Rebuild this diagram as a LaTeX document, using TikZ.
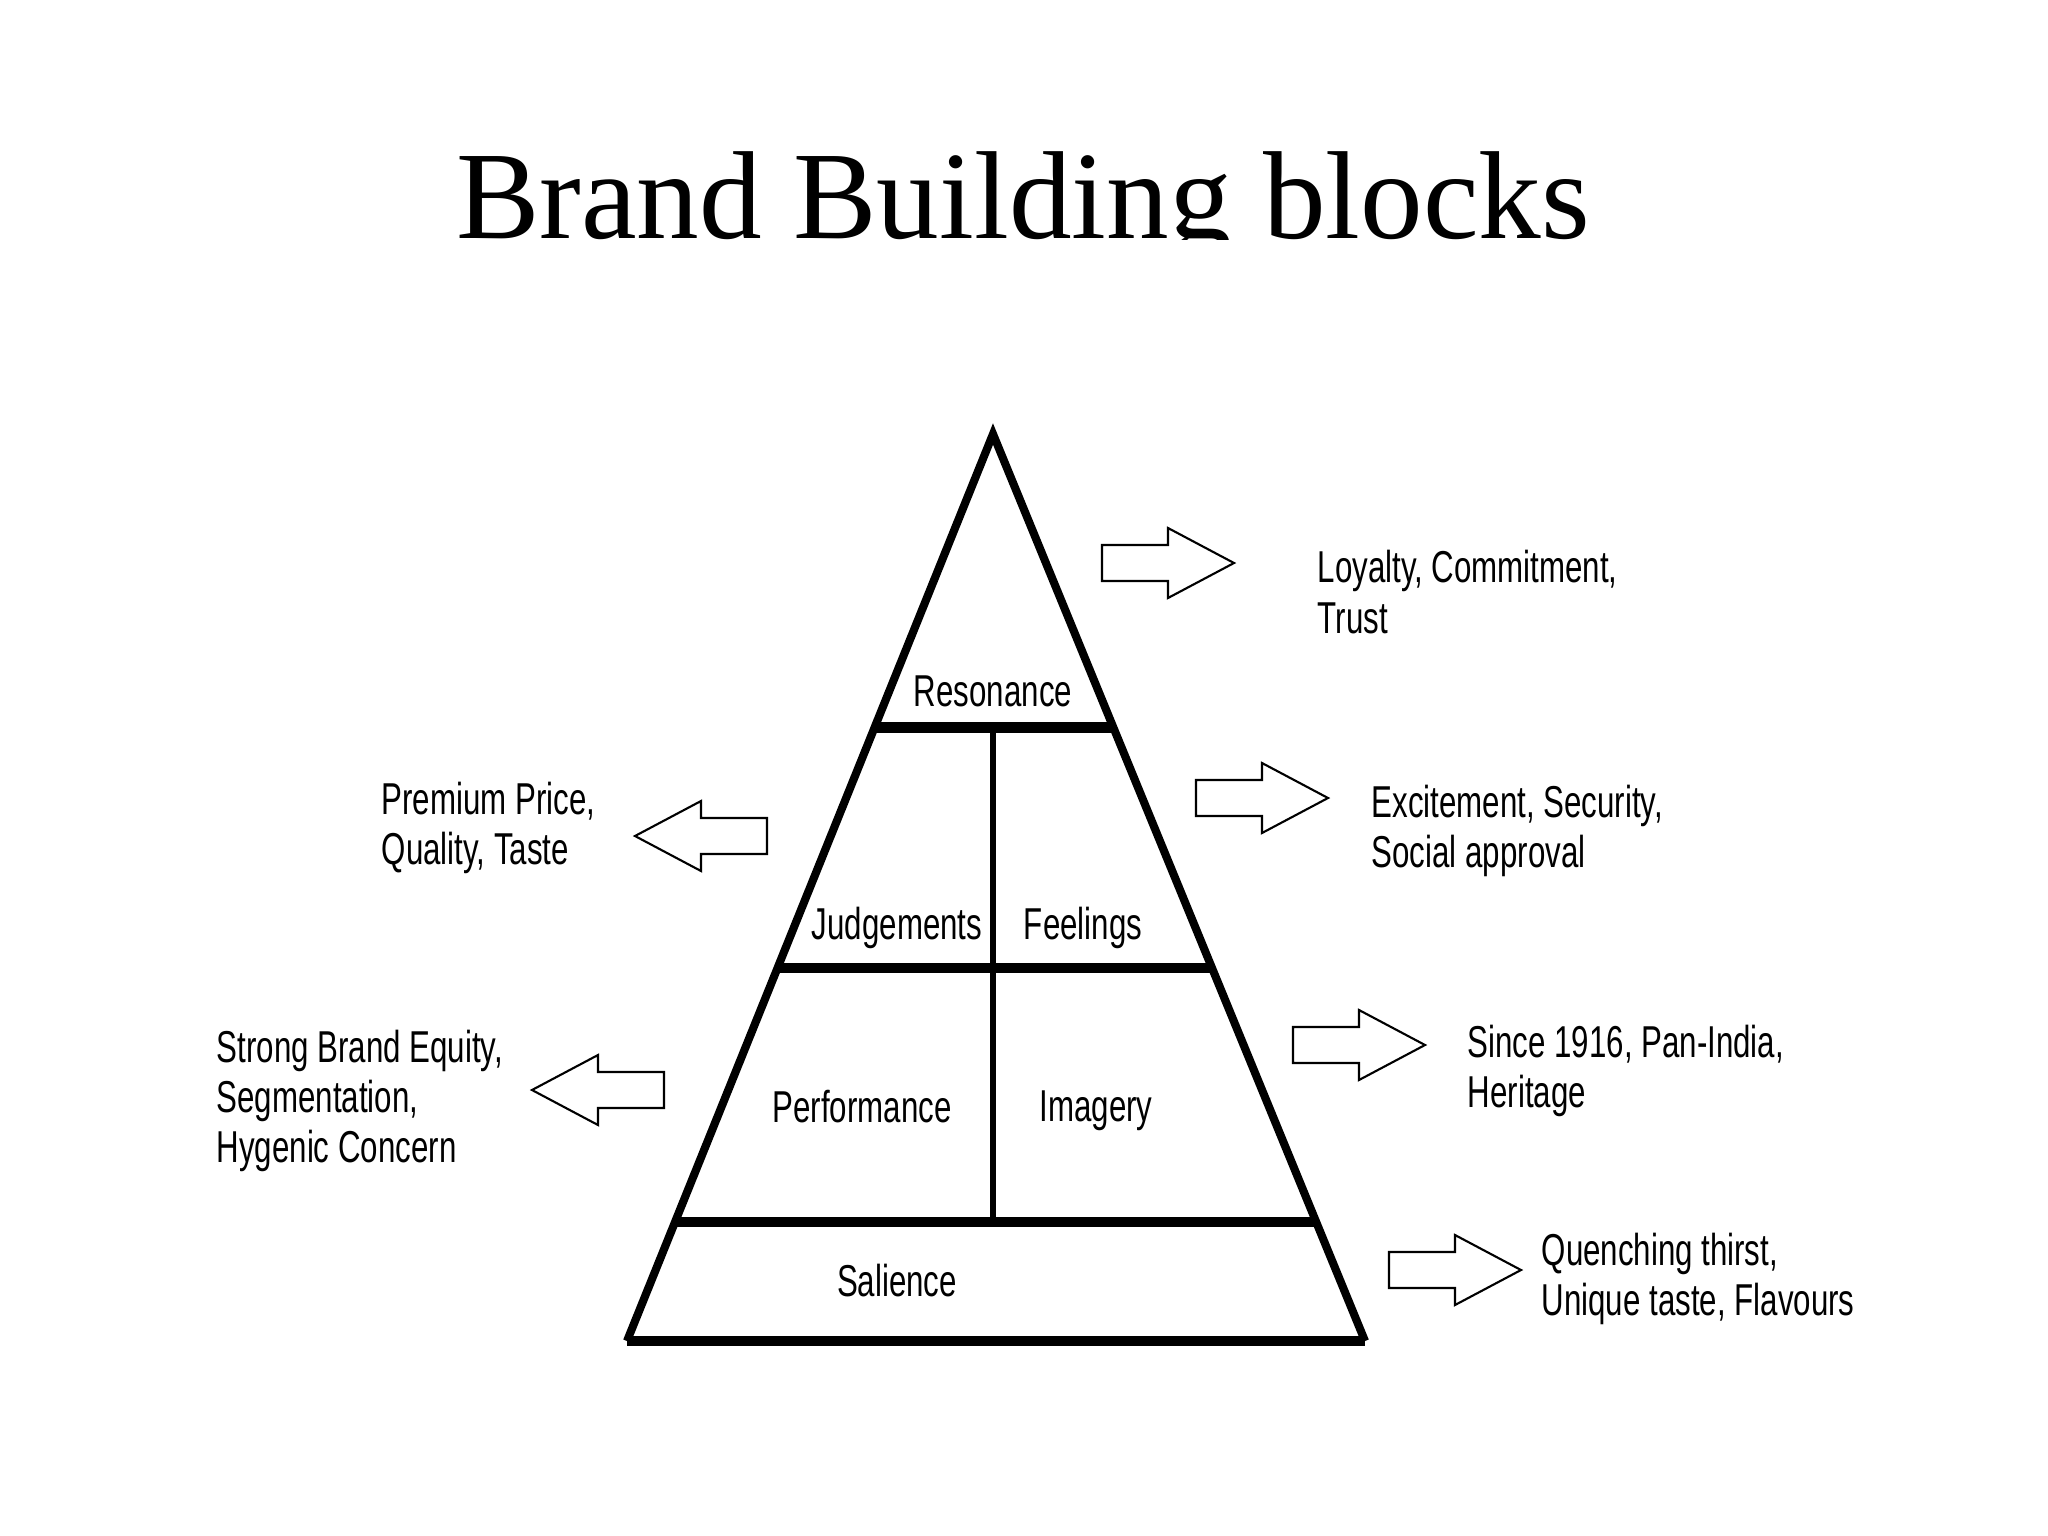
\documentclass[tikz,border=0pt]{standalone}
\usepackage{fontspec}
\setmainfont{Liberation Serif}
\newfontfamily\labelfont[FakeStretch=0.70]{Liberation Sans}
\usetikzlibrary{calc}
\tikzset{
  blockarrow/.pic={
    \draw[line width=0.6pt,line join=miter] (0,-18) -- (66,-18) -- (66,-35) -- (132,0) -- (66,35) -- (66,18) -- (0,18) -- cycle;
  }
}
\begin{document}
\begin{tikzpicture}[x=0.01cm,y=-0.01cm,
  side/.style={line width=2.3pt},
  rung/.style={line width=2.9pt},
  lbl/.style={font=\labelfont\fontsize{12.7}{14.3}\selectfont,inner sep=0pt},
  note/.style={lbl,anchor=west,align=left}]
\useasboundingbox[fill=white] (0,0) rectangle (2048,1536);
% title, cut off at the baseline as on the slide
\begin{scope}
\clip (0,0) rectangle (2048,239);
\node[font=\fontsize{35.6}{40}\selectfont,anchor=base,inner sep=0pt] (title) at (1023,238) {Brand Building blocks};
\end{scope}
% pyramid
\coordinate (apex) at (993,434);
\coordinate (bl) at (627,1341);
\coordinate (br) at (1365,1341);
\foreach \t/\n in {0.3236/a,0.5888/b,0.8688/c}{
  \coordinate (l\n) at ($(apex)!\t!(bl)$);
  \coordinate (r\n) at ($(apex)!\t!(br)$);
}
\draw[side] (bl) -- (apex) -- (br);
\draw[rung] (la) -- (ra);
\draw[rung] (lb) -- (rb);
\draw[rung] (lc) -- (rc);
\draw[rung] (bl) -- (br);
\draw[line width=1.9pt] (la -| apex) -- (lc -| apex);
% blocks
\node[lbl] (res) at (993,691) {Resonance};
\node[lbl] (judg) at (897,928) {Judgements};
\node[lbl] (feel) at (1083,928) {Feelings};
\node[lbl] (perf) at (862,1107) {Performance};
\node[lbl] (imag) at (1096,1111) {Imagery};
\node[lbl] (sal) at (897,1281) {Salience};
% arrows and notes
\pic (arrres) at (1102,563) {blockarrow};
\pic (arrfeel) at (1196,798) {blockarrow};
\pic (arrimag) at (1293,1045) {blockarrow};
\pic (arrsal) at (1389,1270) {blockarrow};
\pic[rotate=180] (arrjudg) at (767,836) {blockarrow};
\pic[rotate=180] (arrperf) at (664,1090) {blockarrow};
\node[note] (nres) at (1317,592) {Loyalty, Commitment,\\Trust};
\node[note] (nfeel) at (1371,831) {Excitement, Security,\\Social approval};
\node[note] (nimag) at (1467,1071) {Since 1916, Pan-India,\\Heritage};
\node[note] (nsal) at (1541,1279) {Quenching thirst,\\Unique taste, Flavours};
\node[note] (njudg) at (381,828) {Premium Price,\\Quality, Taste};
\node[note] (nperf) at (216,1101) {Strong Brand Equity,\\Segmentation,\\Hygenic Concern};
\end{tikzpicture}
\end{document}
